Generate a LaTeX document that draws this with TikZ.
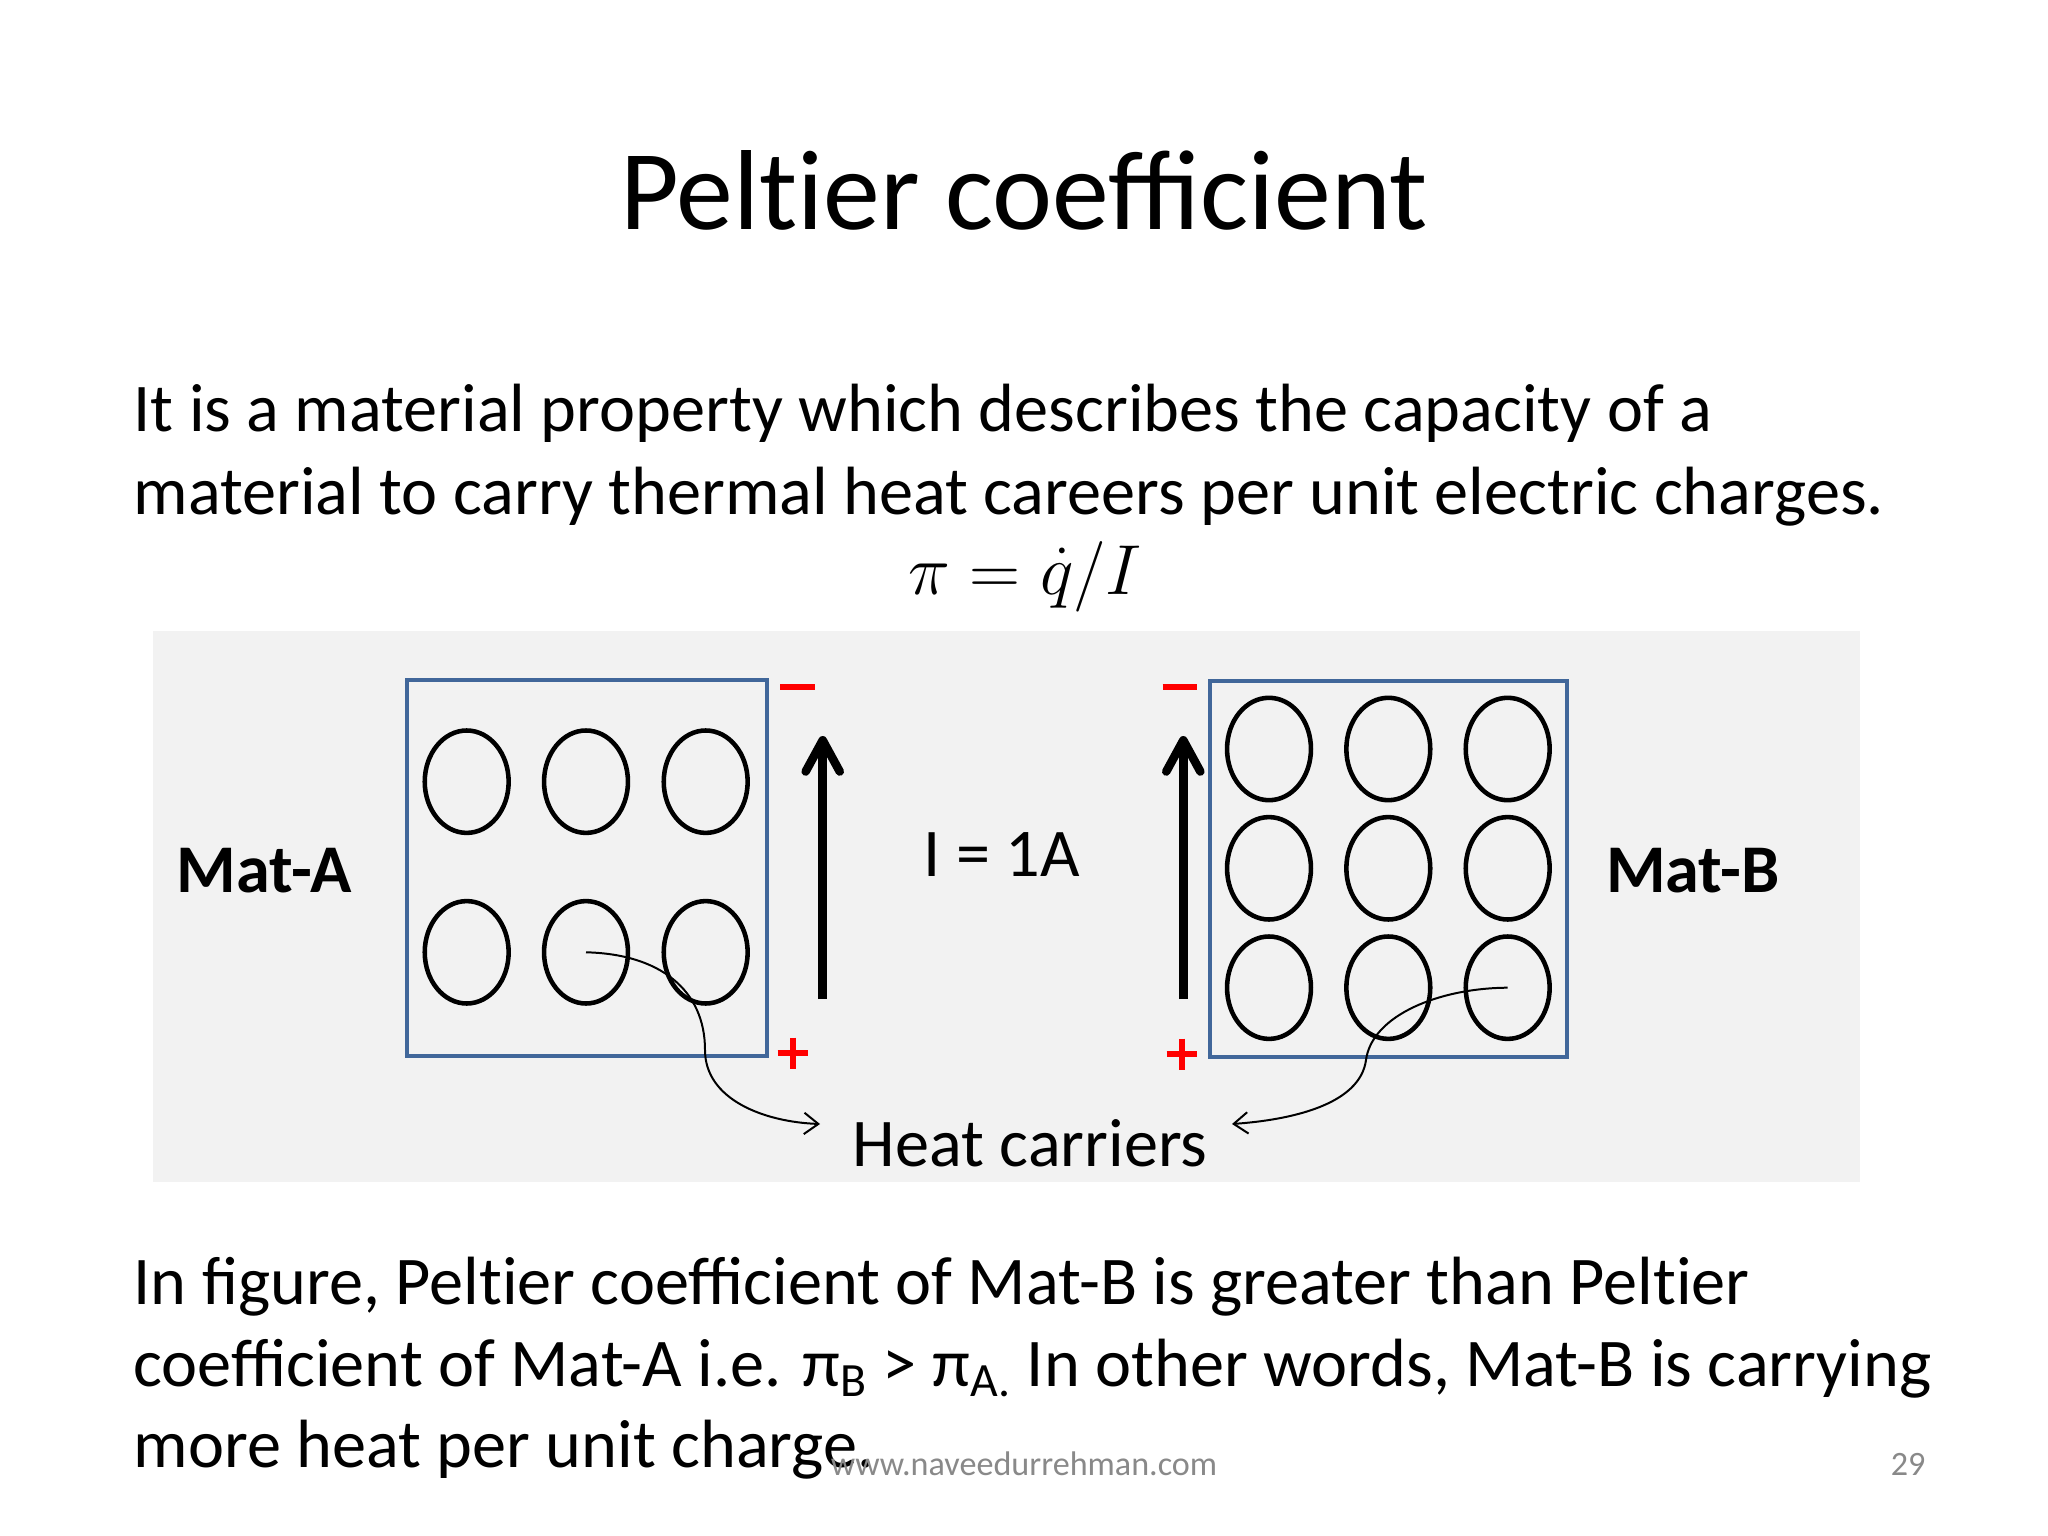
\documentclass[tikz,border=0pt]{standalone}
\usepackage{fontspec}
\setmainfont{Carlito}
\usetikzlibrary{arrows.meta,shapes.geometric}
\definecolor{boxblue}{RGB}{65,103,154}
\definecolor{panel}{RGB}{242,242,242}
\definecolor{foot}{RGB}{137,137,137}
\newcommand\nolig{\kern0pt\relax}
\tikzset{
  body/.style={font=\fontsize{24}{28.8}\selectfont, inner sep=0pt, anchor=base west},
  lbl/.style={font=\fontsize{24}{28.8}\selectfont, inner sep=0pt, anchor=base},
  matbox/.style={draw=boxblue, line width=1.4pt, minimum width=#1, minimum height=132.1pt, inner sep=0pt},
  carrier/.style={ellipse, draw=black, line width=1.6pt, minimum width=29.5pt, minimum height=36pt, inner sep=0pt},
  current/.style={line width=3pt, -{Straight Barb[length=11pt,width=12pt,line cap=round,line join=round]}},
  sign/.style={red, line width=2.1pt},
  pointer/.style={line width=0.7pt, -{Straight Barb[length=5pt,width=7.5pt]}},
}
\begin{document}
\begin{tikzpicture}[x=0.35156pt,y=-0.35156pt]
\useasboundingbox (0,0) rectangle (2048,1536);
\fill[white] (0,0) rectangle (2048,1536);

% title
\node[font=\fontsize{40}{48}\selectfont, inner sep=0pt, anchor=base] (title) at (1024,230) {Pelt\nolig ier coefficient};

% intro text
\node[body] (l1) at (133,432) {It is a material property which describes the capacity of a};
\node[body] (l2) at (133,515) {material to carry thermal heat careers per unit electric charges.};
\node[lbl] (eq) at (1025,595) {$\pi = \dot{q}/I$};

% panel
\fill[panel] (153,631) rectangle (1860,1182);

% boxes
\node[matbox=126.6pt] (boxA) at (586.7,868) {};
\node[matbox=125.6pt] (boxB) at (1388.7,868.7) {};

% carriers A
\node[carrier] (a1) at (466.7,781.7) {};
\node[carrier] (a2) at (586,781.7) {};
\node[carrier] (a3) at (705.7,781.7) {};
\node[carrier] (a4) at (466.7,952.3) {};
\node[carrier] (a5) at (586,952.3) {};
\node[carrier] (a6) at (705.7,952.3) {};

% carriers B
\node[carrier] (b1) at (1269,749) {};
\node[carrier] (b2) at (1388.3,749) {};
\node[carrier] (b3) at (1507.7,749) {};
\node[carrier] (b4) at (1269,868.3) {};
\node[carrier] (b5) at (1388.3,868.3) {};
\node[carrier] (b6) at (1507.7,868.3) {};
\node[carrier] (b7) at (1269,987.7) {};
\node[carrier] (b8) at (1388.3,987.7) {};
\node[carrier] (b9) at (1507.7,987.7) {};

% current arrows
\coordinate (iAbot) at (822.7,999);
\coordinate (iAtop) at (822.7,736);
\coordinate (iBbot) at (1183.3,999);
\coordinate (iBtop) at (1183.3,736);
\draw[current] (iAbot) -- (iAtop);
\draw[current] (iBbot) -- (iBtop);

% signs
\draw[sign] (780,687) -- (815,687);
\draw[sign] (777.7,1053) -- (807.7,1053) (792.7,1037.5) -- (792.7,1068.5);
\draw[sign] (1162.7,687.3) -- (1197.3,687.3);
\draw[sign] (1166.7,1054) -- (1196.7,1054) (1181.7,1038.5) -- (1181.7,1069.5);

% labels
\node[lbl, font=\fontsize{24}{28.8}\selectfont\bfseries] (matA) at (264,892) {Mat-A};
\node[lbl, font=\fontsize{24}{28.8}\selectfont\bfseries] (matB) at (1693,892) {Mat-B};
\node[lbl] (cur) at (1002,876) {I = 1A};
\node[lbl] (heat) at (1030,1166) {Heat carriers};

% pointers
\coordinate (hA) at (820,1124);
\coordinate (hB) at (1232,1124);
\draw[pointer] (a5.center) .. controls (660,954) and (705,990) .. (705,1050) .. controls (705,1100) and (765,1122) .. (hA);
\draw[pointer] (b9.center) .. controls (1440,988) and (1372,1015) .. (1366,1060) .. controls (1360,1105) and (1290,1120) .. (hB);

% bottom text
\node[body] (m1) at (133,1304) {In figure, Pelt\nolig ier coefficient of Mat-B is greater than Pelt\nolig ier};
\node[body] (m2) at (133,1386) {coefficient of Mat-A i.e. π\textsubscript{B} > π\textsubscript{A.} In other words, Mat-B is carrying};
\node[body] (m3) at (133,1467) {more heat per unit charge.};

% footer
\node[font=\fontsize{12}{14}\selectfont, text=foot, inner sep=0pt, anchor=base] (foot) at (1024,1475) {www.naveedurrehman.com};
\node[font=\fontsize{12}{14}\selectfont, text=foot, inner sep=0pt, anchor=base east] (page) at (1926,1475) {29};
\end{tikzpicture}
\end{document}
